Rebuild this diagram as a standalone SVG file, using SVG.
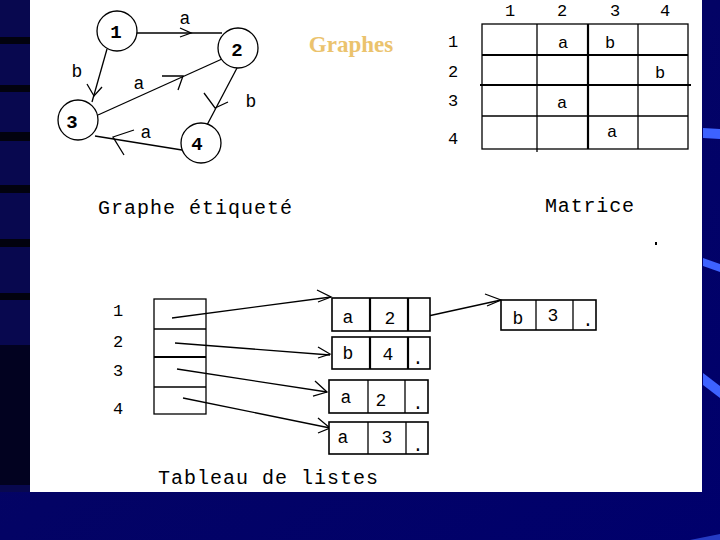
<svg xmlns="http://www.w3.org/2000/svg" width="720" height="540" viewBox="0 0 720 540">
<defs>
<style>
.t{font-family:"Liberation Mono","DejaVu Sans Mono",monospace;fill:#000;}
.lbl{font-size:18px;text-anchor:middle;}
.nd{font-size:19px;font-weight:bold;text-anchor:middle;}
.cap{font-size:20px;}
.ln{stroke:#000;stroke-width:1.3;fill:none;}
.thick{stroke:#000;stroke-width:2.2;fill:none;}
.circ{fill:#fff;stroke:#000;stroke-width:1.3;}
.box{fill:#fff;stroke:#000;stroke-width:1.6;}
.bar{fill:#02020e;}
.streak{fill:#3d62ff;}
</style>
<linearGradient id="bg" x1="0" y1="0" x2="1" y2="1">
<stop offset="0" stop-color="#06065e"/>
<stop offset="1" stop-color="#00006c"/>
</linearGradient>
</defs>
<!-- background -->
<rect x="0" y="0" width="720" height="540" fill="url(#bg)"/>
<rect x="0" y="0" width="30" height="492" fill="#08084f"/>
<rect class="bar" x="0" y="37" width="30" height="7"/>
<rect class="bar" x="0" y="85" width="30" height="7"/>
<rect class="bar" x="0" y="132" width="30" height="9"/>
<rect class="bar" x="0" y="185" width="30" height="8"/>
<rect class="bar" x="0" y="239" width="30" height="8"/>
<rect class="bar" x="0" y="293" width="30" height="7"/>
<rect x="0" y="345" width="30" height="140" fill="#020220"/>
<path class="streak" d="M703 128 L720 129 L720 139 L703 138 Z"/>
<path class="streak" d="M703 258 L720 264 L720 272 L703 266 Z"/>
<path class="streak" d="M703 373 L720 386 L720 398 L703 385 Z"/>
<path d="M690 540 L720 534 L720 540 Z" fill="#3d62ff" opacity="0.6"/>
<!-- white panel -->
<rect x="30" y="0" width="672" height="492" fill="#ffffff"/>

<!-- title -->
<text x="351" y="52" font-family="'Liberation Serif','Times New Roman',serif" font-weight="bold" font-size="23" fill="#ebc36d" text-anchor="middle">Graphes</text>

<!-- connectors -->
<g id="connectors">
<!-- graph edges -->
<line class="ln" x1="137" y1="33" x2="222" y2="33"/>
<polyline class="ln" points="180,28 191,33 180,37"/>
<line class="ln" x1="107" y1="49" x2="92" y2="102"/>
<polyline class="ln" points="87,84 94,96 102,87"/>
<line class="ln" x1="98" y1="115" x2="222" y2="59"/>
<polyline class="ln" points="162,76 183,76 178,90"/>
<line class="ln" x1="237" y1="68" x2="207" y2="125"/>
<polyline class="ln" points="204,93 215,108 228,102"/>
<line class="ln" x1="182" y1="150" x2="95" y2="136"/>
<polyline class="ln" points="134,130 113,137 124,155"/>
<!-- list arrows -->
<line class="ln" x1="172" y1="318" x2="331" y2="297"/>
<polyline class="ln" points="317,290 331,297 318,302"/>
<line class="ln" x1="175" y1="343" x2="330" y2="355"/>
<polyline class="ln" points="318,347 330,354 318,358"/>
<line class="ln" x1="177" y1="369" x2="327" y2="392"/>
<polyline class="ln" points="315,381 327,392 313,396"/>
<line class="ln" x1="183" y1="398" x2="330" y2="428"/>
<polyline class="ln" points="318,418 330,428 318,433"/>
<line class="ln" x1="419" y1="318" x2="501" y2="300"/>
<polyline class="ln" points="485,294 501,300 487,306"/>
</g>

<!-- graph nodes -->
<g id="node1"><circle class="circ" cx="117" cy="31" r="20"/><text class="t nd" x="116" y="38">1</text></g>
<g id="node2"><circle class="circ" cx="238" cy="48" r="20"/><text class="t nd" x="237" y="56">2</text></g>
<g id="node3"><circle class="circ" cx="78" cy="120" r="20"/><text class="t nd" x="72" y="128">3</text></g>
<g id="node4"><circle class="circ" cx="201" cy="143" r="20"/><text class="t nd" x="197" y="150">4</text></g>
<g id="edge-labels">
<text class="t lbl" x="185" y="24">a</text>
<text class="t lbl" x="77" y="77">b</text>
<text class="t lbl" x="139" y="89">a</text>
<text class="t lbl" x="251" y="107">b</text>
<text class="t lbl" x="146" y="138">a</text>
</g>
<text class="t cap" x="98" y="214" textLength="194" lengthAdjust="spacing">Graphe étiqueté</text>

<!-- matrix -->
<g id="matrix">
<rect x="482" y="24" width="206" height="125" fill="none" stroke="#000" stroke-width="1.3"/>
<line class="ln" x1="537" y1="24" x2="537" y2="152"/>
<line class="thick" x1="588" y1="24" x2="588" y2="149"/>
<line class="ln" x1="638" y1="24" x2="638" y2="149"/>
<line class="thick" x1="482" y1="55" x2="688" y2="55"/>
<line class="thick" x1="480" y1="85" x2="691" y2="85"/>
<line class="ln" x1="482" y1="116" x2="688" y2="116"/>
<g class="t" font-size="17" text-anchor="middle">
<text x="510" y="16">1</text><text x="562" y="16">2</text><text x="615" y="16">3</text><text x="665" y="16">4</text>
<text x="453" y="47">1</text><text x="453" y="77">2</text><text x="453" y="106">3</text><text x="453" y="144">4</text>
<text x="563" y="48">a</text><text x="610" y="48">b</text><text x="660" y="78">b</text>
<text x="562" y="108">a</text><text x="612" y="137">a</text>
</g>
</g>
<text class="t cap" x="545" y="212" textLength="89" lengthAdjust="spacing">Matrice</text>
<rect x="655" y="242" width="2" height="3" fill="#000"/>

<!-- array -->
<g id="array">
<rect x="154" y="299" width="52" height="115" fill="none" stroke="#000" stroke-width="1.3"/>
<line class="ln" x1="154" y1="329" x2="206" y2="329"/>
<line class="thick" x1="154" y1="357" x2="206" y2="357"/>
<line class="ln" x1="154" y1="387" x2="206" y2="387"/>
<g class="t" font-size="17" text-anchor="middle">
<text x="118" y="316">1</text><text x="118" y="347">2</text><text x="118" y="376">3</text><text x="118" y="414">4</text>
</g>
</g>

<!-- list nodes -->
<g id="list1">
<rect class="box" x="332" y="298" width="98" height="33"/>
<line class="thick" x1="370" y1="298" x2="370" y2="331"/><line class="thick" x1="408" y1="298" x2="408" y2="331"/>
<text class="t lbl" x="348" y="323">a</text><text class="t lbl" x="390" y="324">2</text>
</g>
<g id="list2">
<rect class="box" x="332" y="337" width="98" height="32"/>
<line class="thick" x1="370" y1="337" x2="370" y2="369"/><line class="thick" x1="408" y1="337" x2="408" y2="369"/>
<text class="t lbl" x="348" y="359">b</text><text class="t lbl" x="388" y="360">4</text><text class="t lbl" x="418" y="364">.</text>
</g>
<g id="list3">
<rect class="box" x="329" y="380" width="99" height="33"/>
<line class="ln" x1="368" y1="380" x2="368" y2="413"/><line class="ln" x1="405" y1="380" x2="405" y2="413"/>
<text class="t lbl" x="346" y="403">a</text><text class="t lbl" x="381" y="406">2</text><text class="t lbl" x="418" y="409">.</text>
</g>
<g id="list4">
<rect class="box" x="329" y="422" width="99" height="32"/>
<line class="ln" x1="368" y1="422" x2="368" y2="454"/><line class="ln" x1="406" y1="422" x2="406" y2="454"/>
<text class="t lbl" x="343" y="443">a</text><text class="t lbl" x="387" y="443">3</text><text class="t lbl" x="418" y="451">.</text>
</g>
<g id="list5">
<rect class="box" x="501" y="300" width="95" height="30"/>
<line class="ln" x1="536" y1="300" x2="536" y2="330"/><line class="ln" x1="573" y1="300" x2="573" y2="330"/>
<text class="t lbl" x="518" y="324">b</text><text class="t lbl" x="553" y="321">3</text><text class="t lbl" x="588" y="326">.</text>
</g>
<text class="t cap" x="158" y="484" textLength="220" lengthAdjust="spacing">Tableau de listes</text>
</svg>
